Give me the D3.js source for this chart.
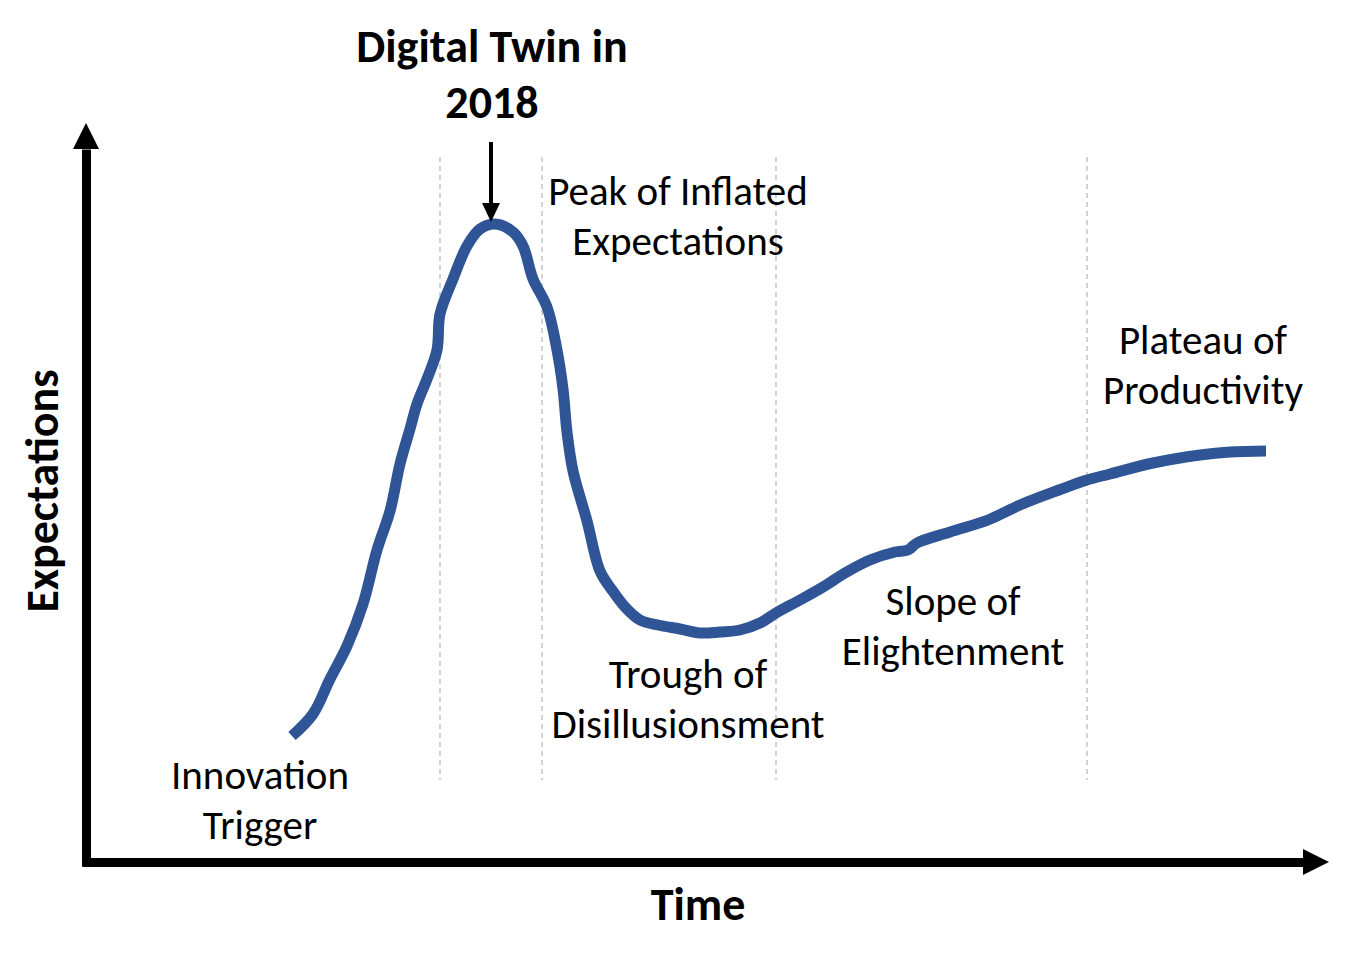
<!DOCTYPE html>
<html><head><meta charset="utf-8">
<script src="https://cdn.jsdelivr.net/npm/d3@7/dist/d3.min.js"></script>
<style>
html,body{margin:0;padding:0;background:#fff;}
svg{display:block;}
text{font-family:Carlito,Calibri,Lato,"Liberation Sans",sans-serif;fill:#000;}
</style></head>
<body>
<script>
// Hype-cycle curve: time (arbitrary units) and expectations (arbitrary units)
const time = [20.6,22.7,24.4,26.1,27.7,29.1,30.4,31.4,32.4,33.1,34.1,35.1,35.4,36.7,38.1,39.4,40.9,42.7,43.7,44.7,46.1,47.1,47.7,48.1,48.7,50.1,51.4,52.6,53.9,55.4,57.2,59.4,61.4,63.4,65.4,67.4,69.0,71.4,73.7,75.9,78.4,80.9,82.2,83.1,86.4,90.2,93.4,97.3,100.1,102.4,106.7,111.4,114.4,118.0];
const expectations = [12.6,14.8,18.3,21.6,25.8,31.2,35.1,39.8,43.3,45.8,48.3,51.2,54.8,58.3,61.6,63.3,63.8,63.0,61.6,58.3,55.5,51.2,47.3,43.0,39.1,34.1,29.1,27.2,25.5,24.2,23.7,23.3,22.9,23.0,23.2,23.9,24.9,26.2,27.5,28.9,30.2,31.0,31.2,31.9,33.0,34.2,35.7,37.2,38.2,38.8,39.9,40.7,41.0,41.1];
// Phase boundaries (time)
const phaseBounds = [35.4, 45.6, 69.0, 100.1];
// Phase labels
const phaseNames = [["Innovation","Trigger"],["Peak of Inflated","Expectations"],["Trough of","Disillusionsment"],["Slope of","Elightenment"],["Plateau of","Productivity"]];
const phaseLabelT = [17.4, 59.2, 60.2, 86.7, 111.7];
const phaseLabelE = [7.3, 65.7, 17.4, 24.7, 50.8];
const titleLines = ["Digital Twin in","2018"];
const annotatedT = 40.7;
const xTitle = "Time", yTitle = "Expectations";

const W = 1358, H = 961;
const svg = d3.select("body").append("svg").attr("width",W).attr("height",H);
const x = d3.scaleLinear().domain([0,124.3]).range([86,1329]);
const y = d3.scaleLinear().domain([0,73.9]).range([862,123]);

// dashed phase separators
svg.append("g").selectAll("line").data(phaseBounds).join("line")
  .attr("x1",d=>x(d)).attr("x2",d=>x(d))
  .attr("y1",y(70.5)).attr("y2",y(8.2))
  .attr("stroke","#b4b4b4").attr("stroke-width",1.2).attr("stroke-dasharray","5,4");

// axes (no ticks)
const ax = svg.append("g").attr("transform",`translate(0,${y(0)})`)
  .call(d3.axisBottom(x.copy().domain([0.4,121.7]).range([82,1303])).tickValues([]).tickSizeOuter(0));
ax.select(".domain").attr("stroke","#000").attr("stroke-width",9);
const ay = svg.append("g").attr("transform",`translate(${x(0)},0)`)
  .call(d3.axisLeft(y.copy().domain([-0.4,71.3]).range([866,149])).tickValues([]).tickSizeOuter(0));
ay.select(".domain").attr("stroke","#000").attr("stroke-width",9);
// arrowheads
svg.append("path").attr("d",`M${x(124.3)},${y(0)} L${x(121.7)},${y(0)-13} L${x(121.7)},${y(0)+13} Z`).attr("fill","#000");
svg.append("path").attr("d",`M${x(0)},${y(73.9)} L${x(0)-13},${y(71.3)} L${x(0)+13},${y(71.3)} Z`).attr("fill","#000");

// curve
const pts = time.map((t,i)=>[t,expectations[i]]);
svg.append("path").datum(pts)
  .attr("d",d3.line().x(d=>x(d[0])).y(d=>y(d[1])).curve(d3.curveCatmullRom.alpha(0.5)))
  .attr("fill","none").attr("stroke","#2f5597").attr("stroke-width",11).attr("stroke-linejoin","round");

// phase labels
const lab = svg.append("g").attr("font-size",41).attr("text-anchor","middle");
phaseNames.forEach((lines,i)=>{
  lines.forEach((s,j)=>{
    lab.append("text").attr("x",x(phaseLabelT[i])).attr("y",y(phaseLabelE[i])+j*49.5).text(s);
  });
});

// title + arrow
const tg = svg.append("g").attr("font-size",46).attr("font-weight","bold").attr("text-anchor","middle");
titleLines.forEach((s,j)=>tg.append("text").attr("x",x(annotatedT)-1).attr("y",62+j*56).text(s));
svg.append("line").attr("x1",x(annotatedT)-2).attr("x2",x(annotatedT)-2).attr("y1",142).attr("y2",205)
  .attr("stroke","#000").attr("stroke-width",4);
svg.append("path").attr("d",`M${x(annotatedT)-2},${222} L${x(annotatedT)-11},${203} L${x(annotatedT)+7},${203} Z`).attr("fill","#000");

// axis titles
svg.append("text").attr("x",698).attr("y",920).attr("text-anchor","middle").attr("font-size",46).attr("font-weight","bold").text(xTitle);
svg.append("text").attr("transform","translate(58,491) rotate(-90)").attr("text-anchor","middle").attr("font-size",46).attr("font-weight","bold").text(yTitle);
</script>
</body></html>
